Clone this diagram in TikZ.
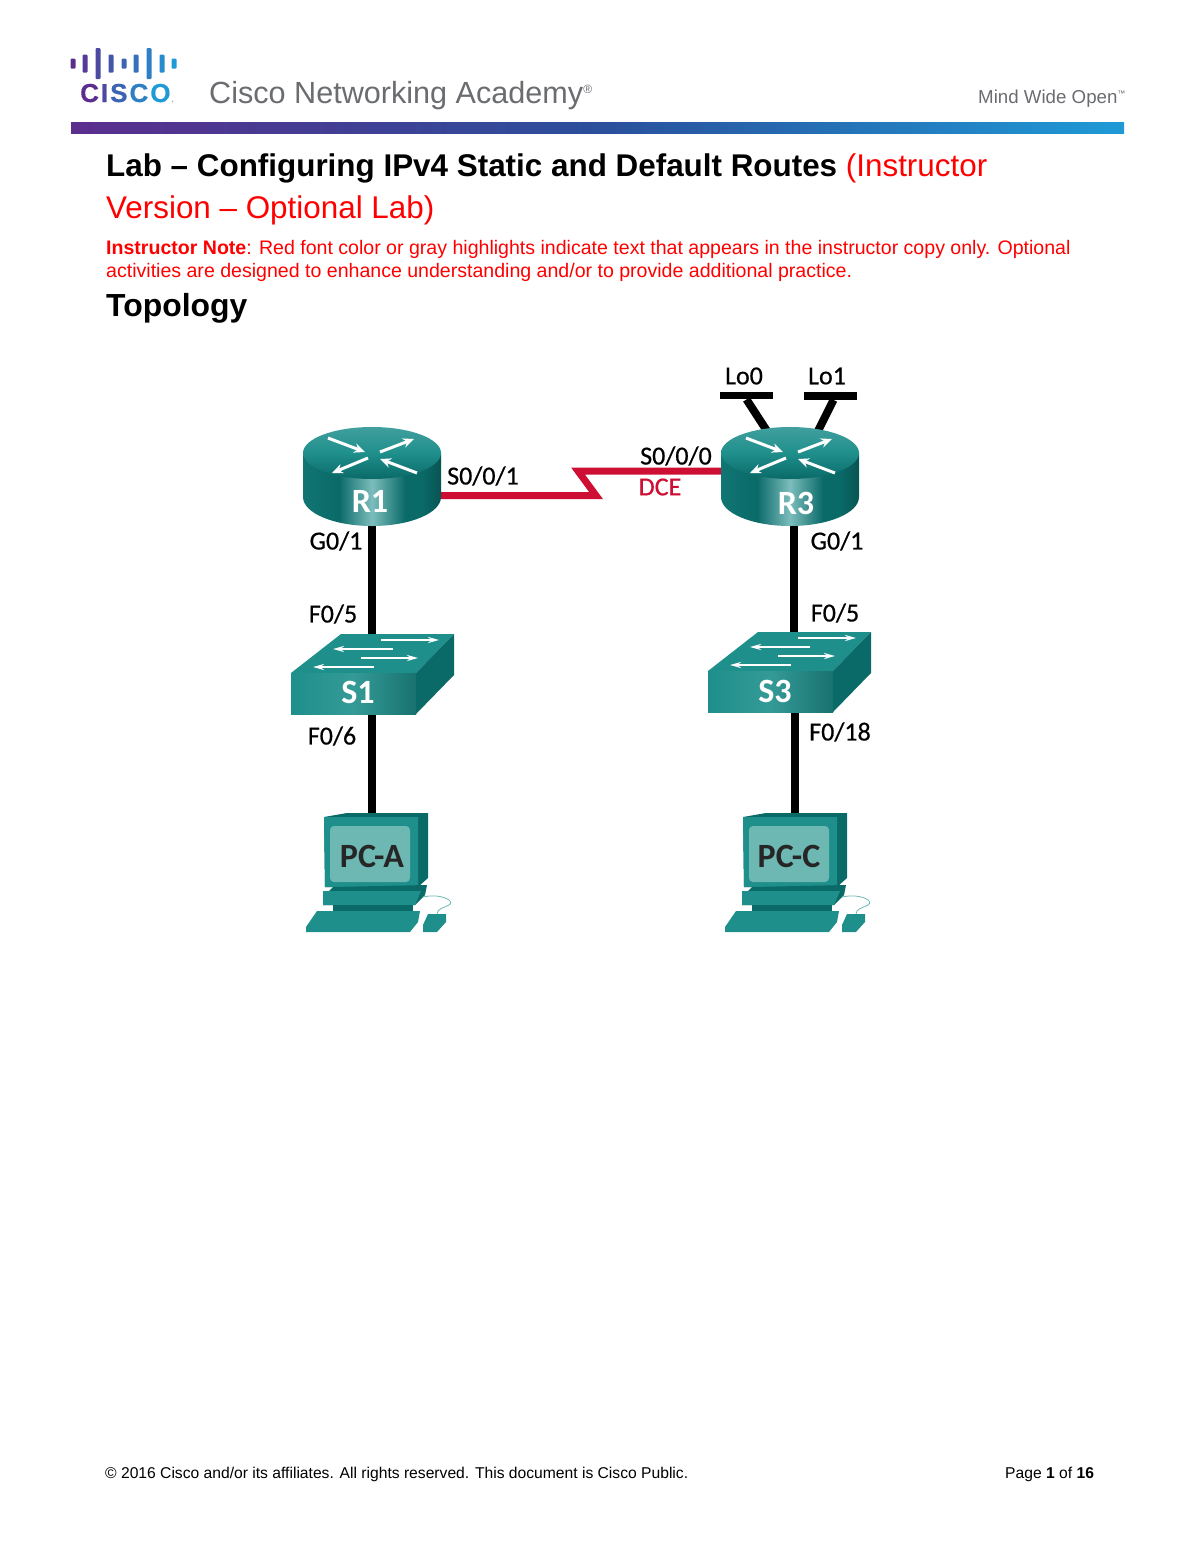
\documentclass[tikz,border=0pt]{standalone}
\usepackage{fontspec}
\usepackage{tikz}
\usetikzlibrary{arrows.meta}
\setmainfont{Liberation Sans}
\newfontfamily\labelfont[FakeBold=0.6]{Carlito}
\newfontfamily\plainlabel{Carlito}
\newfontfamily\logofont[FakeBold=0.5]{Liberation Sans Bold}
\definecolor{linkred}{HTML}{CC0F33}
\definecolor{notered}{HTML}{FF0000}
\definecolor{logogray}{HTML}{6A6C70}
\definecolor{tealtop}{HTML}{1F8F8C}
\definecolor{tealdark}{HTML}{0A6A68}
\definecolor{tealfront}{HTML}{1E8F8B}
\definecolor{tealscreen}{HTML}{6DB8B3}
\definecolor{logoa}{HTML}{5B2E8E}
\definecolor{logob}{HTML}{1F9AD6}
\definecolor{barmid}{HTML}{2A4F9B}
\pgfdeclarehorizontalshading{routerside}{100bp}{color(0bp)=(tealdark!70!tealtop);color(25bp)=(tealdark!70!tealtop);color(38bp)=(tealdark);color(50bp)=(tealtop!45!white!80!teal);color(62bp)=(tealdark);color(68bp)=(tealdark);color(75bp)=(tealdark!80!black);color(100bp)=(tealdark)}
\begin{document}
\begin{tikzpicture}[x=1pt,y=-1pt,
titletext/.style={anchor=base west,inner sep=0pt,font=\fontsize{31.4}{31}\selectfont\bfseries},
notetext/.style={anchor=base west,inner sep=0pt,font=\fontsize{19.56}{20}\selectfont},
foottext/.style={anchor=base west,inner sep=0pt,font=\fontsize{15.65}{16}\selectfont},
portlabel/.style={inner sep=0pt,font=\labelfont\fontsize{26}{26}\selectfont},
devlabel/.style={inner sep=0pt,text=white,font=\plainlabel\fontsize{34}{34}\selectfont\bfseries},
devbox/.style={inner sep=0pt,minimum width=#1},
blacklink/.style={line width=8pt,black},
seriallink/.style={line width=7pt,linkred,miter limit=8},
barnode/.style={fill=black,inner sep=0pt,minimum width=53pt,minimum height=7.5pt},
routerarrow/.style={white,line width=3pt,-{Stealth[length=11pt,width=9.5pt]}},
switcharrow/.style={white,line width=2pt,-{Stealth[length=11pt,width=6pt]}},
routericon/.pic={
\path[shading=routerside](-69,-24)--(-69,20)arc[start angle=180,end angle=360,x radius=69pt,y radius=29pt]--(69,-24)--cycle;
\path[top color=tealtop!85!white,bottom color=tealdark,middle color=tealtop](0,-24)ellipse[x radius=69pt,y radius=26pt];
\draw[routerarrow](-44,-39)--(-7,-25);
\draw[routerarrow](8,-25)--(42,-38);
\draw[routerarrow](-4,-19)--(-40,-4);
\draw[routerarrow](45,-4)--(8,-18);
},
switchicon/.pic={
\fill[tealtop](-31,-40)--(82,-40)--(44,-1)--(-81,-1)--cycle;
\fill[tealdark](82,-40)--(82,1)--(44,40)--(44,-1)--cycle;
\path[left color=tealfront,right color=tealfront!80!black,middle color=tealfront!90!white](-81,-1)rectangle(44,40);
\draw[switcharrow](9,-34)--(67,-34);
\draw[switcharrow](21,-25)--(-39,-25);
\draw[switcharrow](-11,-16)--(46,-16);
\draw[switcharrow](2,-7)--(-59,-7);
},
pcicon/.pic={
\fill[tealdark](-24,-60)--(57,-60)--(57,5)--(47,14)--(-46,14)--(-47,-56)--cycle;
\fill[tealtop](-47,-56)--(47,-56)--(47,14)--(-46,14)--cycle;
\fill[tealscreen,rounded corners=4pt](-41,-47)rectangle(39,9);
\fill[tealdark](-38,14)--(56,12)--(54,22)--(44,32)--(-48,32)--(-48,24)--cycle;
\fill[tealtop](-48,18)--(50,18)--(44,32)--(-48,32)--(-48,24)--cycle;
\fill[tealdark](-38,32)rectangle(42,38);
\fill[tealtop](-54,38)--(49,38)--(47,49)--(39,59)--(-65,59)--(-65,54)--cycle;
\fill[tealtop](57,41)--(75,41)--(75,49)--(66,59)--(52,59)--(52,52)--cycle;
\draw[tealscreen,line width=0.8pt](52,24)..controls(70,20)and(85,28)..(78,32)..controls(72,35)and(66,36)..(66,41);
}]
\useasboundingbox(0,0)rectangle(1200,1553);
\foreach\xpos/\hgt/\pct in {73/10/0,85/18/12,98/31/25,111/18/37,124/10/50,136/18/62,149/31/75,162/18/87,174/10/100}
\fill[logob!\pct!logoa,rounded corners=1pt](\xpos-2.5,63.5-\hgt/2)rectangle(\xpos+2.5,63.5+\hgt/2);
\node[anchor=base west,inner sep=0pt,font=\logofont\fontsize{26}{26}\selectfont](ciscoword)at(80,102){\textcolor{logoa}{C}\kern2pt\textcolor{logob!25!logoa}{I}\kern2pt\textcolor{logob!50!logoa}{S}\kern2pt\textcolor{logob!75!logoa}{C}\kern2pt\textcolor{logob}{O}\kern1pt\textcolor{logogray!60}{\fontsize{8}{8}\selectfont.}};
\node[anchor=base west,inner sep=0pt,text=logogray,font=\fontsize{30.6}{31}\selectfont](academy)at(209,103){Cisco Networking Academy\textsuperscript{\fontsize{12}{12}\selectfont®}};
\node[anchor=base west,inner sep=0pt,text=logogray,font=\fontsize{18.7}{19}\selectfont](mindwide)at(978,103){Mind Wide Open\textsuperscript{\fontsize{8}{8}\selectfont™}};
\path[left color=logoa,right color=logob,middle color=barmid](71,122)rectangle(1124,133);
\node[titletext](titleone)at(106,176){Lab -- Configuring IPv4 Static and Default Routes \textcolor{notered}{\mdseries(Instructor}};
\node[titletext,text=notered,font=\fontsize{31.4}{31}\selectfont](titletwo)at(106,218){Version -- Optional Lab)};
\node[notetext,text=notered](noteone)at(106,254){\textbf{Instructor Note}: Red font color or gray highlights indicate text that appears in the instructor copy only. Optional};
\node[notetext,text=notered](notetwo)at(106,277){activities are designed to enhance understanding and/or to provide additional practice.};
\node[titletext,font=\fontsize{31.9}{32}\selectfont\bfseries](topology)at(106,316){Topology};
\node[foottext](footleft)at(105,1478){© 2016 Cisco and/or its affiliates. All rights reserved. This document is Cisco Public.};
\node[foottext](footright)at(1005,1478){Page \textbf{1} of \textbf{16}};
\node[devbox=138pt,minimum height=99pt](R1)at(372,476.5){};
\node[devbox=138pt,minimum height=99pt](R3)at(790,476.5){};
\node[devbox=163pt,minimum height=80pt](S1)at(371.5,674){};
\node[devbox=163pt,minimum height=80pt](S3)at(788.5,672){};
\node[devbox=130pt,minimum height=120pt](PCA)at(371.5,873){};
\node[devbox=130pt,minimum height=120pt](PCC)at(790,873){};
\node[barnode](LoZero)at(746.5,395.5){};
\node[barnode](LoOne)at(830.5,396){};
\coordinate(bendA)at(596,495.5);
\coordinate(bendB)at(578,471);
\coordinate(portA)at(767,431);
\coordinate(portB)at(818,431);
\draw[blacklink]([xshift=-0.5pt]R1.south)--(S1.north);
\draw[blacklink](S1.south)--(PCA.north);
\draw[blacklink]([xshift=4pt]R3.south)--([xshift=5.5pt]S3.north);
\draw[blacklink]([xshift=6.5pt]S3.south)--([xshift=5pt]PCC.north);
\draw[blacklink](LoZero.south)--(portA);
\draw[blacklink]([xshift=3pt]LoOne.south)--(portB);
\draw[seriallink]([yshift=-19pt]R1.east)--(bendA)--(bendB)--([yshift=5.5pt]R3.west);
\pic at(372,477){routericon};
\pic at(790,477){routericon};
\pic at(372,674){switchicon};
\pic at(789,672){switchicon};
\pic at(371,873){pcicon};
\pic at(790,873){pcicon};
\node[devlabel](Rone)at(370,501){R1};
\node[devlabel](Rthree)at(796,503){R3};
\node[devlabel](Sone)at(358,692){S1};
\node[devlabel](Sthree)at(775,691){S3};
\node[devlabel,text=black!85](PCAtext)at(372,856){PC-A};
\node[devlabel,text=black!85](PCCtext)at(789,856){PC-C};
\node[portlabel](LoZeroText)at(744,376){Lo0};
\node[portlabel](LoOneText)at(827,376){Lo1};
\node[portlabel](serialone)at(483,476){S0/0/1};
\node[portlabel](serialzero)at(676,456){S0/0/0};
\node[portlabel,text=linkred](dce)at(660,487){DCE};
\node[portlabel](gonea)at(336,541){G0/1};
\node[portlabel](fivea)at(333,614){F0/5};
\node[portlabel](sixa)at(332,736){F0/6};
\node[portlabel](gonec)at(837,541){G0/1};
\node[portlabel](fivec)at(835,613){F0/5};
\node[portlabel](eighteen)at(840,732){F0/18};
\end{tikzpicture}
\end{document}
